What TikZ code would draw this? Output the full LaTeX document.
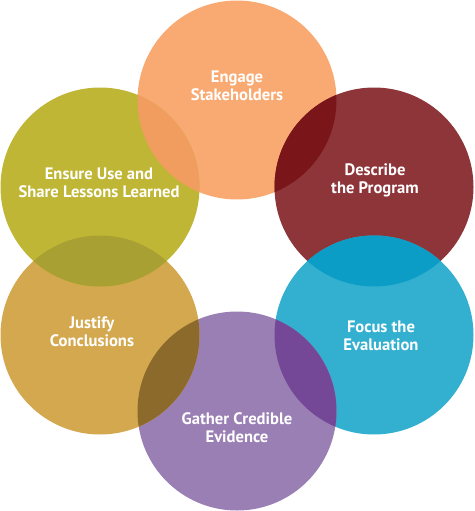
\documentclass[tikz,border=0pt]{standalone}
\usepackage{fontspec}
\setmainfont{PT Sans}
\definecolor{cEngage}{HTML}{F8AA72}
\definecolor{cEnsure}{HTML}{C0B636}
\definecolor{cJustify}{HTML}{D4A84E}
\definecolor{cGather}{HTML}{9A7FB4}
\definecolor{cFocus}{HTML}{33B0D0}
\definecolor{cDescribe}{HTML}{8E3539}
\definecolor{oEngEns}{HTML}{F29D60}
\definecolor{oEnsJus}{HTML}{A8A032}
\definecolor{oJusGat}{HTML}{8C6A2C}
\definecolor{oGatFoc}{HTML}{744897}
\definecolor{oFocDes}{HTML}{0C9DC7}
\definecolor{oDesEng}{HTML}{7A161A}
\tikzset{
  bubble/.style={circle, inner sep=0pt, minimum size=199pt, draw=none},
  lbl/.style={text=white, font=\bfseries\fontsize{16.6}{18}\selectfont, align=center, inner sep=0pt},
}
\newcommand{\rr}{99.5}
\begin{document}
\begin{tikzpicture}[x=1pt,y=-1pt]
\useasboundingbox (0,0) rectangle (474,511);
% circles
\node[bubble, fill=cEngage]   (engage)   at (237,100) {};
\node[bubble, fill=cDescribe] (describe) at (374,187) {};
\node[bubble, fill=cFocus]    (focus)    at (374,335) {};
\node[bubble, fill=cGather]   (gather)   at (237,411) {};
\node[bubble, fill=cJustify]  (justify)  at (100,335) {};
\node[bubble, fill=cEnsure]   (ensure)   at (100,187) {};
% overlaps
\begin{scope}\clip (237,100) circle (\rr); \fill[oEngEns] (100,187) circle (\rr); \end{scope}
\begin{scope}\clip (100,187) circle (\rr); \fill[oEnsJus] (100,335) circle (\rr); \end{scope}
\begin{scope}\clip (100,335) circle (\rr); \fill[oJusGat] (237,411) circle (\rr); \end{scope}
\begin{scope}\clip (237,411) circle (\rr); \fill[oGatFoc] (374,335) circle (\rr); \end{scope}
\begin{scope}\clip (374,335) circle (\rr); \fill[oFocDes] (374,187) circle (\rr); \end{scope}
\begin{scope}\clip (374,187) circle (\rr); \fill[oDesEng] (237,100) circle (\rr); \end{scope}
% labels
\node[lbl] (tEngage)   at (237,86)  {Engage\\Stakeholders};
\node[lbl] (tEnsure)   at (99,183)  {Ensure Use and\\Share Lessons Learned};
\node[lbl] (tDescribe) at (375,180) {Describe\\the Program};
\node[lbl] (tFocus)    at (381,336) {Focus the\\Evaluation};
\node[lbl] (tJustify)  at (92,332)  {Justify\\Conclusions};
\node[lbl] (tGather)   at (237,428) {Gather Credible\\Evidence};
\end{tikzpicture}
\end{document}
